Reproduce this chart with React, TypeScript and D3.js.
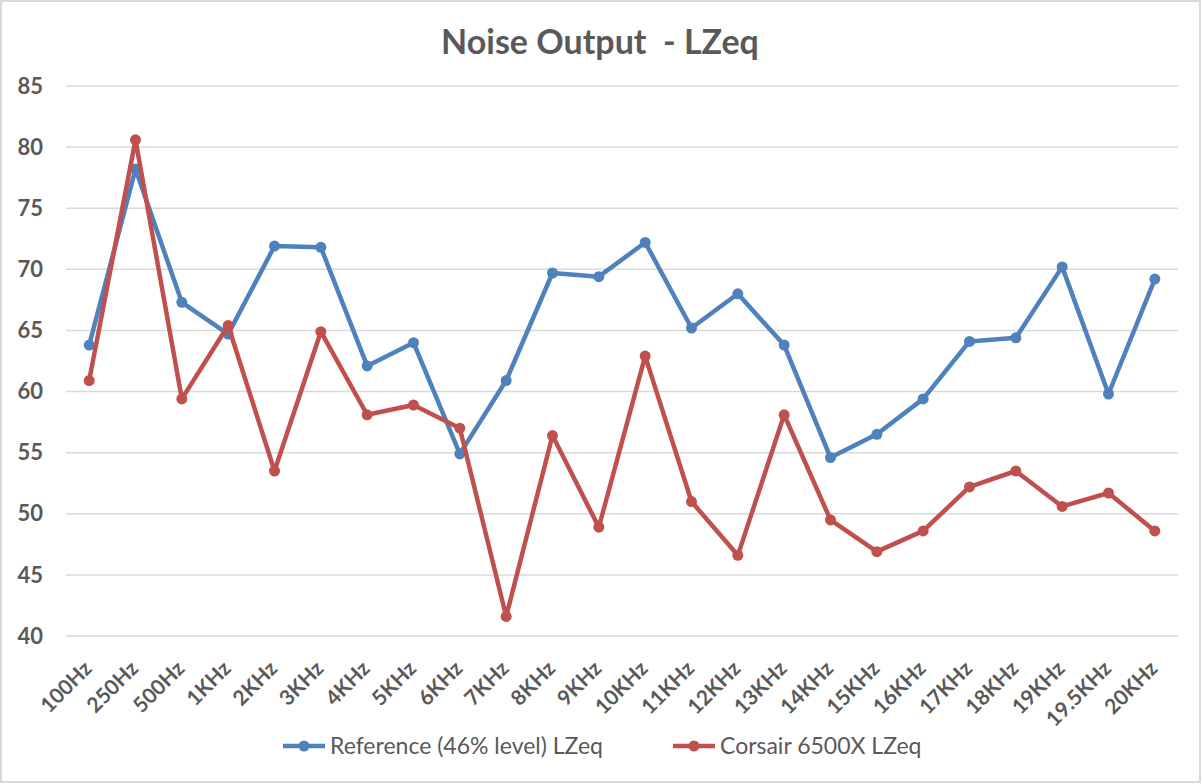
import { useEffect, useRef } from "react";
import * as d3 from "d3";

const categories = [
  "100Hz", "250Hz", "500Hz", "1KHz", "2KHz", "3KHz", "4KHz", "5KHz",
  "6KHz", "7KHz", "8KHz", "9KHz", "10KHz", "11KHz", "12KHz", "13KHz",
  "14KHz", "15KHz", "16KHz", "17KHz", "18KHz", "19KHz", "19.5KHz", "20KHz",
];

const referenceValues = [
  63.8, 78.2, 67.3, 64.7, 71.9, 71.8, 62.1, 64.0, 54.9, 60.9, 69.7, 69.4,
  72.2, 65.2, 68.0, 63.8, 54.6, 56.5, 59.4, 64.1, 64.4, 70.2, 59.8, 69.2,
];

const corsairValues = [
  60.9, 80.6, 59.4, 65.4, 53.5, 64.9, 58.1, 58.9, 57.0, 41.6, 56.4, 48.9,
  62.9, 51.0, 46.6, 58.1, 49.5, 46.9, 48.6, 52.2, 53.5, 50.6, 51.7, 48.6,
];

const yTicks = [40, 45, 50, 55, 60, 65, 70, 75, 80, 85];

const seriesNames = ["Reference (46% level) LZeq", "Corsair 6500X LZeq"];
const seriesColors = ["#4F81BD", "#C0504D"];

const WIDTH = 1202;
const HEIGHT = 784;
const FONT = "Lato, 'Open Sans', sans-serif";
const TEXT_COLOR = "#595959";

export default function App() {
  const svgRef = useRef<SVGSVGElement>(null);

  useEffect(() => {
    if (!svgRef.current) return;
    const svg = d3.select(svgRef.current);
    svg.selectAll("*").remove();

    const margin = { top: 86, left: 66, right: 24, bottom: 148 };
    const plotW = WIDTH - margin.left - margin.right;
    const plotH = HEIGHT - margin.top - margin.bottom;

    svg
      .append("rect")
      .attr("x", 1)
      .attr("y", 1)
      .attr("width", WIDTH - 3)
      .attr("height", HEIGHT - 3)
      .attr("fill", "#fff")
      .attr("stroke", "#D9D9D9")
      .attr("stroke-width", 2);

    svg
      .append("text")
      .attr("x", 600)
      .attr("y", 54)
      .attr("text-anchor", "middle")
      .attr("fill", TEXT_COLOR)
      .style("font-family", FONT)
      .style("font-size", "34px")
      .style("font-weight", "700")
      .style("white-space", "pre")
      .text("Noise Output  - LZeq");

    const g = svg
      .append("g")
      .attr("transform", `translate(${margin.left},${margin.top})`);

    const x = d3
      .scaleBand<string>()
      .domain(categories)
      .range([0, plotW]);

    const y = d3.scaleLinear().domain([40, 85]).range([plotH, 0]);

    // gridlines
    g.append("g")
      .selectAll("line")
      .data(yTicks)
      .join("line")
      .attr("x1", 0)
      .attr("x2", plotW)
      .attr("y1", (d) => y(d))
      .attr("y2", (d) => y(d))
      .attr("stroke", "#D9D9D9")
      .attr("stroke-width", 1.5);

    // y labels
    g.append("g")
      .selectAll("text")
      .data(yTicks)
      .join("text")
      .attr("x", -23)
      .attr("y", (d) => y(d))
      .attr("dy", "0.35em")
      .attr("text-anchor", "end")
      .attr("fill", TEXT_COLOR)
      .style("font-family", FONT)
      .style("font-size", "22px")
      .style("font-weight", "700")
      .text((d) => d);

    // x labels, rotated like Excel's
    const cx = (c: string) => (x(c) ?? 0) + x.bandwidth() / 2;
    g.append("g")
      .selectAll("text")
      .data(categories)
      .join("text")
      .attr(
        "transform",
        (d) => `translate(${cx(d) + 4},${plotH + 34}) rotate(-45)`
      )
      .attr("text-anchor", "end")
      .attr("fill", TEXT_COLOR)
      .style("font-family", FONT)
      .style("font-size", "21px")
      .style("font-weight", "700")
      .text((d) => d);

    const allSeries = [referenceValues, corsairValues];
    const line = d3
      .line<number>()
      .x((_, i) => cx(categories[i]))
      .y((d) => y(d));

    allSeries.forEach((values, si) => {
      g.append("path")
        .datum(values)
        .attr("fill", "none")
        .attr("stroke", seriesColors[si])
        .attr("stroke-width", 4.5)
        .attr("stroke-linejoin", "round")
        .attr("d", line);

      g.append("g")
        .selectAll("circle")
        .data(values)
        .join("circle")
        .attr("cx", (_, i) => cx(categories[i]))
        .attr("cy", (d) => y(d))
        .attr("r", 5.5)
        .attr("fill", seriesColors[si]);
    });

    // legend
    const legendX = [283, 673];
    const legendY = 746;
    seriesNames.forEach((name, si) => {
      const lg = svg
        .append("g")
        .attr("transform", `translate(${legendX[si]},${legendY})`);
      lg.append("line")
        .attr("x1", 0)
        .attr("x2", 42)
        .attr("y1", 0)
        .attr("y2", 0)
        .attr("stroke", seriesColors[si])
        .attr("stroke-width", 4.5);
      lg.append("circle")
        .attr("cx", 21)
        .attr("cy", 0)
        .attr("r", 5.5)
        .attr("fill", seriesColors[si]);
      lg.append("text")
        .attr("x", 47)
        .attr("y", 0)
        .attr("dy", "0.35em")
        .attr("fill", TEXT_COLOR)
        .style("font-family", FONT)
        .style("font-size", "23px")
        .style("font-weight", "400")
        .text(name);
    });
  }, []);

  return (
    <div style={{ position: "absolute", left: 0, top: 0 }}>
      <svg ref={svgRef} width={WIDTH} height={HEIGHT} />
    </div>
  );
}
